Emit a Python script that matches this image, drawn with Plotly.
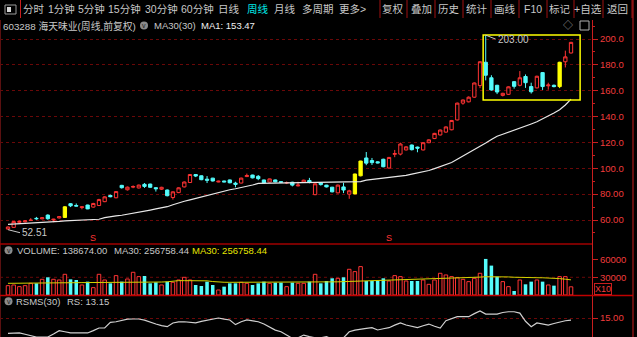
import plotly.graph_objects as go

W, H = 637, 337

# ---------------- data (weekly bars) ----------------
OPEN = [53.0, 54.3, 58.2, 58.6, 59.6, 61.3, 60.9, 63.8, 60.0, 61.6,
        62.0, 72.6, 71.2, 69.6, 71.6, 70.0, 71.2, 74.2, 79.0, 77.2,
        86.8, 83.4, 85.4, 84.8, 87.6, 87.8, 85.0, 83.8, 83.2, 77.4,
        81.2, 85.6, 89.0, 95.2, 94.2, 91.6, 92.4, 89.4, 90.2, 91.0,
        88.5, 88.6, 93.6, 94.8, 93.8, 91.0, 89.4, 91.0, 89.6, 88.6,
        89.2, 86.4, 89.0, 90.6, 79.6, 88.8, 87.0, 85.4, 81.0, 85.6,
        80.0, 80.2, 94.2, 108.0, 106.0, 105.0, 107.0, 100.2, 110.8, 111.0,
        114.2, 118.0, 116.4, 114.2, 119.8, 123.0, 125.8, 128.0, 129.8, 137.4,
        150.4, 151.4, 155.0, 164.0, 182.0, 170.0, 164.2, 156.4, 157.2, 167.0,
        164.2, 171.0, 163.2, 162.2, 174.0, 163.8, 164.2, 163.2, 182.4, 189.2]
HIGH = [55.0, 59.2, 59.6, 60.0, 61.4, 62.4, 62.0, 64.4, 60.9, 63.1,
        70.8, 73.1, 72.8, 70.4, 71.8, 73.3, 76.4, 78.4, 79.6, 82.4,
        87.2, 85.9, 86.8, 87.4, 88.6, 88.1, 85.3, 85.7, 83.6, 82.2,
        85.3, 89.8, 95.6, 95.6, 94.5, 94.0, 92.6, 90.4, 90.4, 91.3,
        89.6, 92.8, 95.9, 95.0, 94.8, 91.2, 92.0, 91.3, 89.9, 89.8,
        89.6, 89.6, 91.2, 92.6, 88.4, 89.2, 87.2, 85.6, 87.4, 88.8,
        83.4, 95.8, 105.8, 112.6, 108.0, 105.4, 107.4, 108.8, 114.2, 119.8,
        117.0, 118.4, 116.8, 120.2, 122.4, 127.4, 130.0, 132.4, 137.4, 150.8,
        153.2, 155.6, 166.4, 182.8, 203.0, 172.0, 164.6, 158.4, 163.4, 167.4,
        175.2, 172.6, 166.2, 171.6, 174.4, 166.2, 164.8, 182.4, 191.0, 197.8]
LOW = [52.51, 54.0, 57.6, 58.1, 59.4, 60.2, 60.6, 60.2, 58.3, 61.2,
       61.8, 70.0, 70.6, 68.3, 68.4, 69.6, 70.8, 73.8, 77.6, 76.8,
       84.3, 82.8, 84.6, 84.4, 84.8, 85.0, 82.0, 83.2, 78.3, 75.8,
       80.8, 85.2, 88.6, 93.2, 90.8, 88.6, 89.8, 89.2, 89.2, 88.4,
       85.3, 88.3, 93.2, 92.2, 90.8, 88.4, 89.1, 89.2, 89.0, 87.8,
       86.0, 86.0, 88.6, 88.4, 79.2, 86.6, 85.2, 81.4, 80.6, 80.8,
       76.4, 80.0, 93.8, 102.4, 102.6, 103.8, 100.8, 99.8, 108.6, 110.0,
       113.8, 113.8, 112.4, 113.8, 119.4, 122.6, 125.4, 127.6, 129.4, 137.0,
       149.2, 151.0, 154.6, 162.0, 168.0, 160.0, 157.4, 155.6, 156.8, 161.6,
       163.4, 162.2, 157.8, 161.8, 160.6, 160.8, 162.6, 162.0, 178.0, 188.8]
CLOSE = [54.6, 58.8, 58.9, 59.3, 59.9, 61.0, 61.7, 61.0, 60.6, 62.6,
         70.2, 71.0, 70.8, 70.2, 68.6, 72.8, 75.8, 77.9, 78.0, 82.0,
         85.0, 85.4, 85.9, 87.0, 86.0, 85.3, 84.2, 85.3, 78.8, 81.8,
         84.9, 89.4, 95.2, 94.0, 91.2, 90.8, 90.2, 90.0, 89.5, 88.8,
         87.6, 92.4, 94.4, 92.6, 92.0, 88.7, 91.8, 89.5, 89.3, 89.0,
         87.0, 87.0, 90.8, 89.2, 88.0, 87.4, 85.6, 81.8, 87.0, 83.2,
         82.6, 95.6, 105.6, 104.0, 104.4, 104.2, 101.2, 108.4, 111.4, 118.8,
         116.6, 114.4, 115.6, 119.8, 122.0, 127.0, 129.6, 132.0, 137.0, 150.4,
         152.8, 155.0, 166.0, 182.4, 172.0, 160.6, 159.0, 158.0, 163.0, 163.4,
         170.0, 166.2, 159.2, 171.2, 163.2, 164.4, 163.2, 182.0, 186.2, 197.4]
YELLOW_BARS = [10, 61, 62, 97]

MA30 = [56.7, 56.9, 57.1, 57.3, 57.5, 57.8, 58.0, 58.3, 58.6, 59.0,
        59.4, 59.6, 59.8, 60.0, 60.2, 60.4, 60.6, 61.8, 62.7, 63.2,
        63.7, 64.4, 65.2, 66.0, 66.8, 67.7, 68.6, 69.5, 70.3, 71.8,
        73.3, 74.5, 75.6, 76.7, 78.0, 79.2, 80.4, 81.6, 82.5, 83.4,
        84.2, 85.0, 85.8, 87.1, 88.3, 88.4, 88.4, 88.5, 88.6, 88.7,
        88.8, 88.9, 89.0, 89.1, 89.1, 89.2, 89.2, 89.3, 89.3, 89.4,
        89.4, 89.5, 89.7, 90.8, 91.3, 91.8, 92.3, 92.7, 93.2, 93.7,
        94.5, 95.5, 96.4, 97.3, 98.3, 99.8, 101.3, 103.0, 104.5, 107.0,
        109.4, 111.8, 114.3, 116.8, 119.5, 122.3, 124.8, 126.3, 127.8, 129.4,
        131.0, 132.6, 134.3, 136.0, 138.1, 140.3, 142.8, 145.3, 149.0, 153.47]

VOLUME = [15850, 16980, 14150, 15850, 19810, 19810, 26600, 30000, 26600, 25470,
          35090, 26600, 25470, 16980, 22640, 12450, 35090, 25470, 19810, 32830,
          22640, 27170, 38490, 31130, 32260, 19810, 21510, 16980, 22640, 21510,
          25470, 30000, 25470, 16980, 15280, 22640, 16980, 8490, 14150, 19810,
          19810, 21510, 19810, 16980, 19810, 22640, 19810, 20940, 20940, 14150,
          20940, 19810, 19810, 22640, 35090, 19810, 23770, 28300, 28300, 30000,
          43580, 39620, 48110, 23770, 23770, 23770, 28300, 23770, 32830, 31130,
          23770, 23770, 23770, 25470, 18110, 25470, 36790, 33960, 31130, 29430,
          26600, 22640, 28300, 36790, 61130, 49810, 31130, 22640, 14150, 6790,
          25470, 18110, 22640, 25470, 22640, 16980, 15850, 31130, 31130, 13867.4]
VOL_MA30 = [19800, 19800, 19900, 19900, 20000, 20100, 20300, 20500, 20600, 20700,
            20900, 20900, 21000, 21000, 21100, 21100, 21200, 21200, 21300, 21300,
            21400, 21400, 21500, 21600, 21700, 21800, 21900, 22000, 22400, 23500,
            24300, 24300, 24400, 24400, 24300, 24000, 22800, 21800, 21600, 21500,
            21500, 21400, 21400, 21400, 21300, 21300, 21300, 21400, 21400, 21400,
            21500, 21500, 21500, 21500, 21500, 21500, 21700, 22000, 22300, 22700,
            23000, 23200, 23400, 23600, 23700, 23800, 24100, 24400, 24700, 25000,
            25300, 25500, 25900, 26400, 27000, 27600, 28000, 28300, 28300, 28400,
            28500, 28800, 29500, 30300, 31000, 31100, 31100, 31000, 30600, 30100,
            29600, 29400, 29400, 29300, 29200, 29000, 28600, 27800, 26800, 25675.844]

RSMS = [1.0, 1.4, 1.4, 0.2, -1.0, -2.3, -2.3, -2.3, 0.5, 3.5,
        2.5, 1.4, 1.4, 1.4, 1.4, 3.5, 5.9, 5.9, 11.0, 11.6,
        12.5, 14.0, 14.1, 14.1, 13.0, 11.6, 9.5, 8.0, 7.1, 10.5,
        11.4, 11.6, 11.0, 10.5, 12.0, 13.2, 14.2, 15.0, 14.0, 13.2,
        9.0, 11.6, 13.2, 12.5, 11.6, 9.5, 7.1, 4.0, 2.5, -1.0,
        -3.5, -3.0, -0.5, -2.0, -3.0, -3.0, -2.0, -4.0, -4.0, -3.0,
        2.5, 4.0, 5.0, 5.6, 6.2, 4.1, 5.2, 6.2, 8.5, 10.5,
        8.6, 7.4, 6.2, 8.0, 9.5, 7.5, 5.9, 12.5, 14.1, 16.2,
        16.2, 16.2, 19.0, 21.4, 18.6, 18.6, 18.6, 20.0, 20.7, 20.7,
        19.5, 12.0, 7.1, 10.5, 9.5, 8.6, 10.0, 11.6, 12.5, 13.15]

PRICE_TICKS = [60, 80, 100, 120, 140, 160, 180, 200]
PRICE_TICK_TEXT = ["60.00", "80.00", "100.0", "120.0", "140.0", "160.0", "180.0", "200.0"]
VOL_TICKS = [30000, 60000]
VOL_TICK_TEXT = ["30000", "60000"]
RS_TICKS = [15]
RS_TICK_TEXT = ["15.00"]
SIGNAL_BARS = [15, 67]
BOX_BARS = (84, 99)

TOOLBAR_LEFT = [("分时", 34), ("1分钟", 61), ("5分钟", 91), ("15分钟", 124), ("30分钟", 161),
                ("60分钟", 197), ("日线", 229), ("周线", 258), ("月线", 285), ("多周期", 318),
                ("更多>", 352)]
TOOLBAR_RIGHT = [("复权", 393), ("叠加", 421), ("历史", 449), ("统计", 477), ("画线", 505),
                 ("F10", 533), ("标记", 560), ("+自选", 588), ("返回", 617)]
TOOLBAR_SEPS = [380, 407, 435, 463, 491, 519, 547, 574, 603, 632]

# ---------------- styling ----------------
RED = "#ff3434"
CYAN = "#54fcfc"
YELLOW = "#ffff00"
AXRED = "#c81e1e"
GRIDRED = "#6a0808"
GRAY = "#c8c8c8"
FONT = "Liberation Sans, Noto Sans CJK SC, sans-serif"

N = len(CLOSE)
IDX = list(range(N))


def pxx(x):
    return x / W


def pyy(y):
    return 1 - y / H


XR = 592  # right edge of the plotting area (pixels)

fig = go.Figure()

normal = [i for i in IDX if i not in YELLOW_BARS]
fig.add_trace(go.Candlestick(
    x=normal, open=[OPEN[i] for i in normal], high=[HIGH[i] for i in normal],
    low=[LOW[i] for i in normal], close=[CLOSE[i] for i in normal],
    increasing=dict(line=dict(color=RED, width=1), fillcolor="#000000"),
    decreasing=dict(line=dict(color=CYAN, width=1), fillcolor=CYAN),
    whiskerwidth=0, xaxis="x", yaxis="y", showlegend=False, hoverinfo="skip"))
fig.add_trace(go.Candlestick(
    x=YELLOW_BARS, open=[OPEN[i] for i in YELLOW_BARS], high=[HIGH[i] for i in YELLOW_BARS],
    low=[LOW[i] for i in YELLOW_BARS], close=[CLOSE[i] for i in YELLOW_BARS],
    increasing=dict(line=dict(color=YELLOW, width=1), fillcolor=YELLOW),
    decreasing=dict(line=dict(color=YELLOW, width=1), fillcolor=YELLOW),
    whiskerwidth=0, xaxis="x", yaxis="y", showlegend=False, hoverinfo="skip"))
fig.add_trace(go.Scatter(x=IDX, y=MA30, mode="lines", line=dict(color="#e8e8e8", width=1.2),
                         xaxis="x", yaxis="y", showlegend=False, hoverinfo="skip"))

up = [i for i in IDX if CLOSE[i] >= OPEN[i]]
dn = [i for i in IDX if CLOSE[i] < OPEN[i]]
fig.add_trace(go.Bar(x=up, y=[VOLUME[i] for i in up], width=0.62,
                     marker=dict(color="#000000", line=dict(color=RED, width=1)),
                     xaxis="x", yaxis="y2", showlegend=False, hoverinfo="skip"))
fig.add_trace(go.Bar(x=dn, y=[VOLUME[i] for i in dn], width=0.62,
                     marker=dict(color=CYAN, line=dict(color=CYAN, width=0)),
                     xaxis="x", yaxis="y2", showlegend=False, hoverinfo="skip"))
fig.add_trace(go.Scatter(x=IDX, y=VOL_MA30, mode="lines", line=dict(color="#d4d400", width=1),
                         xaxis="x", yaxis="y2", showlegend=False, hoverinfo="skip"))
fig.add_trace(go.Scatter(x=IDX, y=RSMS, mode="lines", line=dict(color="#d0d0d0", width=1.2),
                         xaxis="x", yaxis="y3", showlegend=False, hoverinfo="skip"))

spacing = 5.687
x0 = -8 / spacing
x1 = x0 + XR / spacing

yax_common = dict(side="right", anchor="x", showline=True, linecolor=AXRED, linewidth=1,
                  ticks="outside", ticklen=5, tickcolor=AXRED, zeroline=False,
                  tickfont=dict(color="#f03c3c", size=9.5, family=FONT), fixedrange=True)

fig.update_layout(
    width=W, height=H, margin=dict(l=0, r=0, t=0, b=0),
    paper_bgcolor="#000000", plot_bgcolor="#000000",
    boxgap=0.42, boxgroupgap=0, barmode="overlay",
    font=dict(family=FONT, color=GRAY, size=10),
    xaxis=dict(domain=[0, XR / W], range=[x0, x1], showgrid=False, zeroline=False,
               showticklabels=False, ticks="", showline=False, rangeslider=dict(visible=False),
               fixedrange=True),
    yaxis=dict(domain=[pyy(244), pyy(20)], range=[41.45, 214.7], tickvals=PRICE_TICKS,
               ticktext=PRICE_TICK_TEXT, showgrid=True, gridcolor=GRIDRED, griddash="dot",
               minor=dict(ticks="outside", ticklen=2, tickcolor=AXRED, dtick=10, showgrid=False),
               **yax_common),
    yaxis2=dict(domain=[pyy(295), pyy(244)], range=[0, 86440], tickvals=VOL_TICKS,
                ticktext=VOL_TICK_TEXT, showgrid=False, **yax_common),
    yaxis3=dict(domain=[0, pyy(295)], range=[-2.27, 35.9], tickvals=RS_TICKS,
                ticktext=RS_TICK_TEXT, showgrid=True, gridcolor=GRIDRED, griddash="dot",
                **yax_common),
)

shapes = []
# toolbar
shapes.append(dict(type="rect", xref="paper", yref="paper", x0=pxx(5), x1=pxx(16), y0=pyy(14), y1=pyy(5),
                   line=dict(color="#9a9a9a", width=1), fillcolor="rgba(0,0,0,0)"))
shapes.append(dict(type="rect", xref="paper", yref="paper", x0=pxx(7), x1=pxx(11), y0=pyy(12), y1=pyy(7),
                   line=dict(width=0), fillcolor="#d8d8d8"))
shapes.append(dict(type="line", xref="paper", yref="paper", x0=pxx(20.5), x1=pxx(20.5), y0=pyy(0), y1=pyy(18),
                   line=dict(color=AXRED, width=1)))
for sx in TOOLBAR_SEPS:
    shapes.append(dict(type="line", xref="paper", yref="paper", x0=pxx(sx), x1=pxx(sx), y0=pyy(0), y1=pyy(18),
                       line=dict(color="#a01010", width=1)))
# borders / separators
shapes.append(dict(type="line", xref="paper", yref="paper", x0=pxx(633), x1=pxx(633), y0=0, y1=1,
                   line=dict(color=AXRED, width=1)))
shapes.append(dict(type="line", xref="paper", yref="paper", x0=pxx(0.5), x1=pxx(0.5), y0=0, y1=pyy(20),
                   line=dict(color="#5a1010", width=1)))
shapes.append(dict(type="line", xref="paper", yref="paper", x0=0, x1=pxx(XR), y0=pyy(244), y1=pyy(244),
                   line=dict(color="#a00000", width=1.5)))
shapes.append(dict(type="line", xref="paper", yref="paper", x0=0, x1=pxx(633), y0=pyy(295.5), y1=pyy(295.5),
                   line=dict(color="#c00000", width=1.5)))
# volume dotted grid
shapes.append(dict(type="line", xref="paper", yref="y2", x0=0, x1=pxx(XR), y0=VOL_TICKS[0], y1=VOL_TICKS[0],
                   line=dict(color=GRIDRED, width=1, dash="dot"), layer="below"))
# indicator icons
for cx, cy in [(144, 25.5), (8.5, 250.3), (8.5, 301.3)]:
    shapes.append(dict(type="circle", xref="paper", yref="paper", x0=pxx(cx - 4), x1=pxx(cx + 4),
                       y0=pyy(cy + 4), y1=pyy(cy - 4), line=dict(width=0), fillcolor="#8c8c8c"))
shapes.append(dict(type="rect", xref="paper", yref="paper", x0=pxx(580), x1=pxx(589), y0=pyy(30), y1=pyy(21),
                   line=dict(color="#b0b0b0", width=1), fillcolor="rgba(0,0,0,0)"))
# yellow highlight box around last bars
b0, b1 = BOX_BARS
seg_low = min(LOW[b0:b1 + 1])
seg_high = max(HIGH[b0:b1 + 1])
shapes.append(dict(type="rect", xref="x", yref="y", x0=b0 - 0.45, x1=b1 + 1.6,
                   y0=seg_low - 2.8, y1=seg_high + 0.1, line=dict(color=YELLOW, width=1.5),
                   fillcolor="rgba(0,0,0,0)"))

ann = []


def text(x, y, s, color=GRAY, size=10, anchor="left", **kw):
    ann.append(dict(x=pxx(x), y=pyy(y), xref="paper", yref="paper", text=s, showarrow=False,
                    xanchor=anchor, yanchor="middle", font=dict(color=color, size=size, family=FONT), **kw))


for s, cx in TOOLBAR_LEFT:
    text(cx, 8.5, s, color="#00e8e8" if s == "周线" else GRAY, size=10.5, anchor="center")
for s, cx in TOOLBAR_RIGHT:
    text(cx, 8.5, s, size=10.5, anchor="center")

text(1, 25.5, "603288 海天味业(周线,前复权)", size=9.8)
text(144, 25.5, "v", color="#202020", size=7, anchor="center")
text(152, 25.5, "MA30(30)", size=9.5)
text(199, 25.5, "MA1: %.2f" % MA30[-1], color="#f0f0f0", size=9.5)
text(568, 25, "◇", color="#a0a0a0", size=10, anchor="center")

text(8.5, 250.3, "v", color="#202020", size=7, anchor="center")
text(15, 250.5, "VOLUME: %.2f" % (VOLUME[-1] * 10), size=9.5)
text(112, 250.5, "MA30: %.2f" % (VOL_MA30[-1] * 10), size=9.5)
text(190, 250.5, "MA30: %.2f" % (VOL_MA30[-1] * 10), color="#e6e600", size=9.5)

text(8.5, 301.3, "v", color="#202020", size=7, anchor="center")
text(14, 301.5, "RSMS(30)", size=9.5)
text(65, 301.5, "RS: %.2f" % RSMS[-1], size=9.5)

ann.append(dict(x=pxx(603), y=pyy(288.5), xref="paper", yref="paper", text="X10", showarrow=False,
                xanchor="center", yanchor="middle", font=dict(color="#f03c3c", size=9, family=FONT),
                bordercolor=AXRED, borderwidth=1, borderpad=0))

for sb in SIGNAL_BARS:
    ann.append(dict(x=sb, xref="x", y=pyy(238.5), yref="paper", text="S", showarrow=False,
                    xanchor="center", yanchor="middle", font=dict(color=RED, size=9, family=FONT)))

# extreme value labels
lo_i = LOW.index(min(LOW))
hi_i = HIGH.index(max(HIGH))
ann.append(dict(x=lo_i, y=LOW[lo_i], xref="x", yref="y", text="%.2f" % LOW[lo_i], showarrow=True,
                arrowhead=0, arrowwidth=1, arrowcolor=GRAY, ax=12, ay=3, xanchor="left",
                font=dict(color=GRAY, size=10, family=FONT)))
ann.append(dict(x=hi_i, y=HIGH[hi_i], xref="x", yref="y", text="%.2f" % HIGH[hi_i], showarrow=True,
                arrowhead=0, arrowwidth=1, arrowcolor=GRAY, ax=10, ay=4, xanchor="left",
                font=dict(color=GRAY, size=10, family=FONT)))

fig.update_layout(shapes=shapes, annotations=ann)
fig.write_html("out.html")
